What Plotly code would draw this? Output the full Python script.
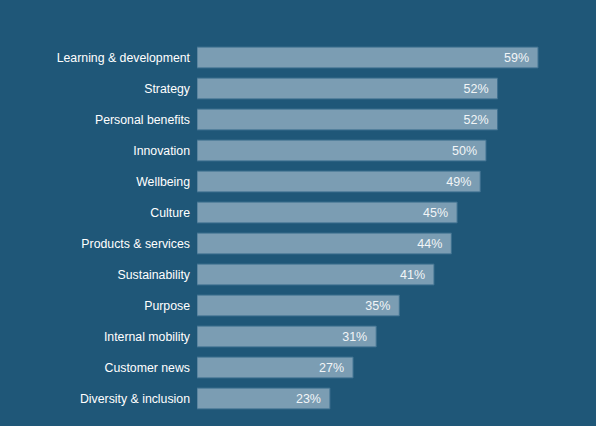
import plotly.graph_objects as go

categories = [
    "Learning & development", "Strategy", "Personal benefits", "Innovation",
    "Wellbeing", "Culture", "Products & services", "Sustainability",
    "Purpose", "Internal mobility", "Customer news", "Diversity & inclusion",
]
values = [59, 52, 52, 50, 49, 45, 44, 41, 35, 31, 27, 23]

bg = "#1f5778"
bar_color = "#7b9db3"

fig = go.Figure(go.Bar(
    x=values,
    y=categories,
    orientation="h",
    marker=dict(color=bar_color, line=dict(color="#3f7190", width=1)),
    text=[f"{v}%&nbsp;\u2009" for v in values],
    textposition="inside",
    insidetextanchor="end",
    textfont=dict(color="#f2f5f7", size=12.5, family="Liberation Sans, Arial, sans-serif"),
    hoverinfo="skip",
))

fig.update_layout(
    width=596, height=426,
    paper_bgcolor=bg, plot_bgcolor=bg,
    margin=dict(l=197, r=36, t=42, b=12),
    bargap=0.33,
    showlegend=False,
    font=dict(family="Liberation Sans, Arial, sans-serif", color="#ffffff", size=12),
)
fig.update_xaxes(range=[0, 62.8], visible=False, showgrid=False, zeroline=False)
fig.update_yaxes(autorange="reversed", showgrid=False, zeroline=False,
                 tickfont=dict(color="#ffffff", size=12.3), ticks="", ticklabelstandoff=6)

# remove the default page margin so the chart fills the window
fig.write_html("out.html", config={"displayModeBar": False},
               post_script="document.body.style.margin='0';")
